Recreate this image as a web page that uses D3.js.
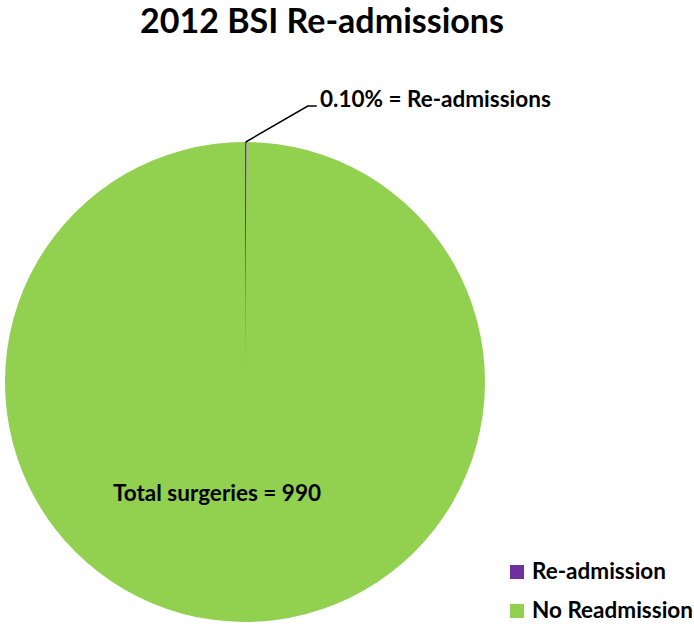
<!DOCTYPE html>
<html>
<head>
<meta charset="utf-8">
<script src="https://cdn.jsdelivr.net/npm/d3@7"></script>
<style>
  body { margin: 0; background: #fff; }
  text { font-family: Lato, "Open Sans", sans-serif; font-weight: bold; fill: #000; }
</style>
</head>
<body>
<svg id="chart" width="694" height="629"></svg>
<script>
// data
var categories = ["Re-admission", "No Readmission"];
var counts = [1, 989];
var colors = ["#7030A0", "#92D050"];
var totalLabel = "Total surgeries = 990";
var pctLabel = "0.10% = Re-admissions";

var svg = d3.select("#chart");
var cx = 245, cy = 382, r = 240;

// title
svg.append("text")
    .attr("x", 322)
    .attr("y", 33)
    .attr("text-anchor", "middle")
    .style("font-size", "34px")
    .text("2012 BSI Re-admissions");

var pie = d3.pie().sort(null).value(function(d){ return d; });
var arc = d3.arc().innerRadius(0).outerRadius(r);
var color = d3.scaleOrdinal().domain(categories).range(colors);

var g = svg.append("g").attr("transform", "translate(" + cx + "," + cy + ")");

var slices = pie(counts);
// draw the big slice first so the sliver sits on top
g.selectAll("path")
    .data(slices.slice().reverse())
    .join("path")
    .attr("d", arc)
    .attr("fill", function(d){ return color(categories[d.index]); });

// leader line for the small slice
var mid = (slices[0].startAngle + slices[0].endAngle) / 2;
var px = r * Math.sin(mid), py = -r * Math.cos(mid);
g.append("polyline")
    .attr("points", [[px, py], [px + 62, py - 36], [px + 71, py - 36]].map(function(p){ return p.join(","); }).join(" "))
    .attr("fill", "none")
    .attr("stroke", "#000")
    .attr("stroke-width", 1.5);

svg.append("text")
    .attr("x", 320)
    .attr("y", 107)
    .style("font-size", "22.5px")
    .text(pctLabel);

svg.append("text")
    .attr("x", 113)
    .attr("y", 501)
    .style("font-size", "22.5px")
    .text(totalLabel);

// legend
var legend = svg.selectAll(".legend")
    .data(categories)
    .join("g")
    .attr("class", "legend")
    .attr("transform", function(d, i){ return "translate(510," + (565 + i * 39) + ")"; });

legend.append("rect")
    .attr("width", 14).attr("height", 14)
    .attr("fill", function(d){ return color(d); });

legend.append("text")
    .attr("x", 22)
    .attr("y", 14)
    .style("font-size", "22.5px")
    .text(function(d){ return d; });
</script>
</body>
</html>
